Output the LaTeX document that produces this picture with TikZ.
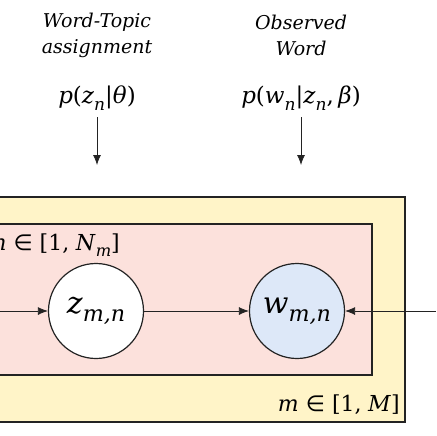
\documentclass[tikz,border=0pt]{standalone}
\usepackage{fontspec}
\setmainfont{DejaVu Serif}
\newfontfamily\symf{DejaVu Sans}
\newcommand\vi[1]{\textit{#1}}
\newcommand\sbs[1]{\raisebox{-0.28em}{\fontsize{0.74\dimexpr\csname f@size\endcsname pt\relax}{0pt}\selectfont #1}}
\newcommand\elt{\hspace{0.32em}{\symf ∈}\hspace{0.32em}}
\usetikzlibrary{arrows.meta}
\definecolor{outery}{RGB}{255,244,200}
\definecolor{innerp}{RGB}{252,225,220}
\definecolor{obsb}{RGB}{221,232,248}
\definecolor{edge}{RGB}{35,35,35}
\begin{document}
\begin{tikzpicture}[x=1pt,y=-1pt,
  plate/.style={draw=edge,line width=1.6pt},
  var/.style={circle,draw=edge,line width=1.2pt,minimum size=95pt,inner sep=0pt,font=\fontsize{30}{30}\selectfont},
  lbl/.style={font=\fontsize{19}{26}\selectfont\itshape,align=center},
  mth/.style={font=\fontsize{22}{28}\selectfont},
  arr/.style={-{Latex[length=10pt,width=8pt]},line width=0.8pt,draw=edge}]
\useasboundingbox (0,0) rectangle (436,436);
\clip (0,0) rectangle (436,436);
\fill[white] (0,0) rectangle (436,436);
% plates
\filldraw[plate,fill=outery] (-20,197) rectangle (405,422);
\filldraw[plate,fill=innerp] (-20,224) rectangle (372,375);
\node[mth,anchor=east,inner sep=0pt] (nlab) at (120,245) {\vi{n}\elt[1,\hspace{0.3em}\vi{N}\sbs{\vi{m}}]};
\node[mth,anchor=east,inner sep=0pt] (mlab) at (400,405) {\vi{m}\elt[1,\hspace{0.3em}\vi{M}]};
% variables
\node[var,fill=white] (z) at (96,311) {\vi{z}\sbs{\vi{m,n}}};
\node[var,fill=obsb] (w) at (297,311) {\vi{w}\sbs{\vi{m,n}}};
\coordinate (lin) at (0,311);
\coordinate (rin) at (436,311);
\draw[arr] (lin) -- (z);
\draw[arr] (z) -- (w);
\draw[arr] (rin) -- (w);
% top labels
\node[lbl] (t1) at (97,35) {Word-Topic\\assignment};
\node[lbl] (t2) at (301,35) {Observed\\Word};
\node[mth,font=\fontsize{23}{28}\selectfont] (p1) at (97,98) {\vi{p}(\vi{z}\sbs{\vi{n}}|\vi{θ})};
\node[mth,font=\fontsize{23}{28}\selectfont] (p2) at (301,98) {\vi{p}(\vi{w}\sbs{\vi{n}}|\vi{z}\sbs{\vi{n}},\hspace{0.2em}\vi{β})};
\coordinate (a1) at (97,165);
\coordinate (a2) at (301,165);
\draw[arr] (97,117) -- (a1);
\draw[arr] (301,117) -- (a2);
\end{tikzpicture}
\end{document}
